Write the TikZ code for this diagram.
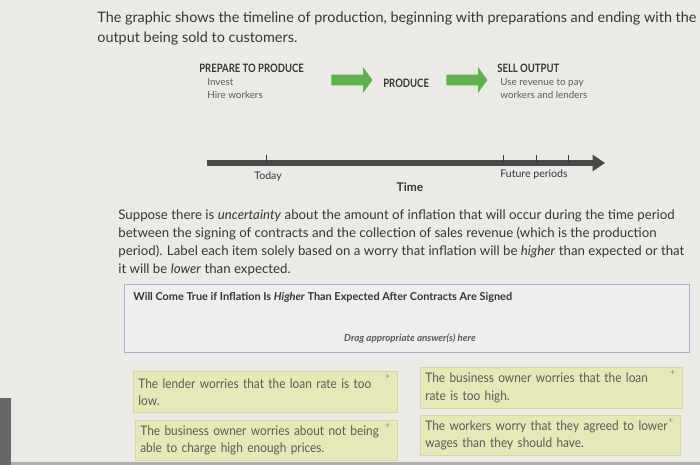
\documentclass[tikz,border=0pt]{standalone}
\usepackage{fontspec}
\setmainfont{Lato}
\newfontfamily\condfont[FakeStretch=0.82]{Lato}
\newfontfamily\cardfont[FakeStretch=0.9]{Lato}
\usetikzlibrary{shapes.arrows, arrows.meta, positioning}

\definecolor{screen}{HTML}{ECEAE7}
\definecolor{ink}{HTML}{363636}
\definecolor{soft}{HTML}{5A5A5A}
\definecolor{arrowgreen}{HTML}{5FB24C}
\definecolor{cardfill}{HTML}{E5E9B8}
\definecolor{cardline}{HTML}{D3D7A4}
\definecolor{boxline}{HTML}{A8AED0}
\definecolor{boxfill}{HTML}{EFEEEC}

\begin{document}
\begin{tikzpicture}[x=0.02cm, y=-0.02cm, every node/.style={inner sep=0pt, text=ink},
    stage/.style={font=\condfont\bfseries\fontsize{6.6}{8}\selectfont, anchor=west},
    stepnote/.style={font=\fontsize{5.6}{7.4}\selectfont, anchor=north west, align=left, text=soft},
    stage arrow/.style={single arrow, fill=arrowgreen, draw=none, minimum height=0.82cm,
        inner sep=0.1cm, single arrow head extend=0.15cm, single arrow tip angle=108},
    prose/.style={anchor=north west, align=left},
    card/.style={draw=cardline, fill=cardfill, anchor=north west, align=left, text=soft,
        inner xsep=0.1cm, inner ysep=0.1cm, font=\cardfont\fontsize{7.5}{9.7}\selectfont},
    grip/.style={font=\fontsize{5}{5}\selectfont, text=soft!70}]

    \fill[screen] (0,0) rectangle (700,465);
    \useasboundingbox (0,0) rectangle (700,465);

    % question text
    \node[prose, font=\fontsize{8.2}{11.4}\selectfont] (intro) at (97,12) {The graphic shows the timeline of production, beginning with preparations and ending with the\\output being sold to customers.};

    % stages of production
    \node[stage] (prepare) at (199,68) {PREPARE TO PRODUCE};
    \node[stepnote] (prepare-note) at (207,78) {Invest\\Hire workers};
    \node[stage arrow] (arrow1) at (350,80) {};
    \node[stage] (produce) at (383,83) {PRODUCE};
    \node[stage arrow] (arrow2) at (465,80) {};
    \node[stage] (sell) at (497,68) {SELL OUTPUT};
    \node[stepnote] (sell-note) at (500,78) {Use revenue to pay\\workers and lenders};

    % timeline
    \coordinate (tl-start) at (207,163);
    \coordinate (tl-end) at (605,163);
    \draw[line width=3pt, draw=ink!90, -{Triangle[length=7pt, width=9pt]}] (tl-start) -- (tl-end);
    \foreach \x/\name in {266/today, 503/fut1, 536/fut2, 568/fut3} {
        \draw[draw=ink, line width=0.5pt] (\x,163) -- (\x,155) coordinate (tick-\name);
    };
    \node[font=\fontsize{6}{7}\selectfont] (today) at (268,177) {Today};
    \node[font=\fontsize{6}{7}\selectfont] (future) at (534,175) {Future periods};
    \node[font=\bfseries\fontsize{6.8}{8}\selectfont] (time) at (410,187) {Time};

    % instructions
    \node[prose, font=\fontsize{7.55}{10.3}\selectfont] (task) at (118,209) {Suppose there is \emph{uncertainty} about the amount of inflation that will occur during the time period\\
        between the signing of contracts and the collection of sales revenue (which is the production\\
        period). Label each item solely based on a worry that inflation will be \emph{higher} than expected or that\\
        it will be \emph{lower} than expected.};

    % drop zone
    \node[draw=boxline, fill=boxfill, line width=0.8pt, anchor=north west, minimum width=11.3cm, minimum height=1.36cm] (dropzone) at (124,284) {};
    \node[anchor=west, font=\bfseries\fontsize{6.2}{7}\selectfont] (zone-title) at (133,297) {Will Come True if Inflation Is \emph{Higher} Than Expected After Contracts Are Signed};
    \node[font=\bfseries\itshape\fontsize{5.55}{6}\selectfont, text=soft] (zone-hint) at (410,339) {Drag appropriate answer(s) here};

    % answer cards
    \node[card, text width=5.08cm, minimum height=0.82cm] (card1) at (133,371) {The lender worries that the loan rate is too\\low.};
    \node[card, text width=5.04cm, minimum height=0.82cm] (card2) at (420,367) {The business owner worries that the loan\\rate is too high.};
    \node[card, text width=5.04cm, minimum height=0.80cm] (card3) at (135,420) {The business owner worries about not being\\able to charge high enough prices.};
    \node[card, text width=5.0cm, minimum height=0.80cm] (card4) at (420,415) {The workers worry that they agreed to lower\\wages than they should have.};
    \foreach \c in {card1, card2, card3, card4} {
        \node[grip, anchor=north east] at ([xshift=-0.14cm, yshift=-0.06cm]\c.north east) {+};
    };

    % screen edge
    \fill[ink!40] (0,462) rectangle (700,465);
    \fill[ink!75] (0,398) rectangle (11,465);
\end{tikzpicture}
\end{document}
